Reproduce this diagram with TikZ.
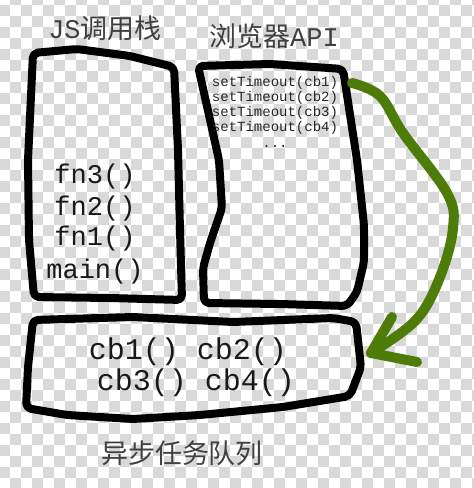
\documentclass[tikz,border=0pt]{standalone}
\usepackage{fontspec}
\setmonofont{Liberation Mono}
\newfontfamily\cjk{Noto Sans CJK SC}
\usetikzlibrary{calc}
\definecolor{checkgray}{RGB}{217,217,217}
\definecolor{arrowgreen}{RGB}{78,124,8}

\begin{document}
\begin{tikzpicture}[x=1pt, y=-1pt,
		sketch/.style={line width=8pt, line join=round, line cap=round, rounded corners=5pt},
		heading/.style={font=\cjk\fontsize{27}{32}\selectfont, text=black!75},
		apicall/.style={font=\ttfamily\fontsize{14}{15}\selectfont, text=black!85, inner sep=0pt},
		frame/.style={font=\ttfamily\fontsize{27}{32}\selectfont, text=black!90, inner sep=0pt},
		callback/.style={font=\ttfamily\fontsize{30}{34}\selectfont, text=black!90, inner sep=0pt},
		handarrow/.style={draw=arrowgreen, line width=10pt, line cap=round, line join=round}]
		\useasboundingbox (0,0) rectangle (474,488);
		\clip (0,0) rectangle (474,488);
		\fill [white] (0,0) rectangle (474,488);
		\foreach \i in {0,...,22}
			\foreach \j in {0,...,22} {
				\fill [checkgray] (-1+22*\i,5+22*\j) rectangle ++(11,11);
				\fill [checkgray] (10+22*\i,-6+22*\j) rectangle ++(11,11);
			}
		\draw [sketch] (33,53) -- (77,49) -- (130,56) -- (174,67) -- (178,150) -- (180,230) -- (182,300) -- (110,298) -- (34,297) -- (29,240) -- (28,160) -- cycle;
		\draw [sketch] (198,66) -- (270,64) -- (343,69) -- (357,160) -- (364,225) -- (364,262) -- (357,292) -- (347,306) -- (280,304) -- (204,303) -- (203,268) -- (210,243) -- (222,208) -- (219,160) -- cycle;
		\draw [sketch] (33,320) -- (133,317) -- (233,322) -- (333,318) -- (356,322) -- (361,367) -- (350,396) -- (283,407) -- (200,415) -- (133,419) -- (67,415) -- (26,408) -- (28,367) -- cycle;
		\node [heading] (stacktitle) at (105,28) {{\ttfamily JS}调用栈};
		\node [heading] (apititle) at (274,36) {浏览器{\ttfamily API}};
		\foreach \i in {1,...,4}
			\node [apicall] (call\i) at (275,68+15*\i) {setTimeout(cb\i)};
		\node [apicall] (calldots) at (275,146) {...};
		\foreach \fn/\y in {fn3/183, fn2/215, fn1/245, main/278}
			\node [frame, anchor=base] (\fn) at (95,\y) {\fn()};
		\node [callback, anchor=base] (cbtop) at (188,359) {cb1() cb2()};
		\node [callback, anchor=base] (cbbottom) at (196,390) {cb3() cb4()};
		\node [heading] (queuetitle) at (182,453) {异步任务队列};
		\coordinate (apiout) at (352,83);
		\coordinate (queuein) at (371,353);
		\draw [handarrow] plot [smooth, tension=0.6] coordinates {(apiout) (380,96) (403,133) (447,193) (453,228) (440,277) (416,320) (queuein)};
		\draw [handarrow] (392,317) -- (queuein) -- (417,362);
	\end{tikzpicture}
\end{document}
